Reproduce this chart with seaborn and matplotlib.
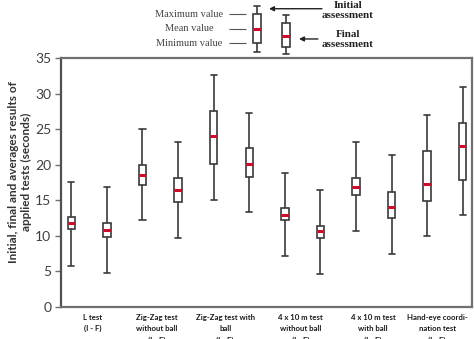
import numpy as np
import pandas as pd
import matplotlib
matplotlib.use("Agg")
import matplotlib.pyplot as plt
import seaborn as sns

# ---- data -----------------------------------------------------------------
tests = [
    "L test\n(I - F)",
    "Zig-Zag test\nwithout ball\n(I - F)",
    "Zig-Zag test with\nball\n(I - F)",
    "4 x 10 m test\nwithout ball\n(I - F)",
    "4 x 10 m test\nwith ball\n(I - F)",
    "Hand-eye coordi-\nnation test\n(I - F)",
]
assessments = ["Initial", "Final"]

# initial assessment: minimum, lower box edge, mean, upper box edge, maximum
initial_min = [5.8, 12.2, 15.1, 7.2, 10.7, 10.0]
initial_low = [10.9, 17.2, 20.1, 12.2, 15.7, 14.9]
initial_mean = [11.8, 18.5, 24.0, 13.0, 16.8, 17.3]
initial_high = [12.6, 20.0, 27.5, 13.9, 18.2, 21.9]
initial_max = [17.6, 25.0, 32.6, 18.8, 23.2, 27.0]

# final assessment
final_min = [4.8, 9.7, 13.4, 4.7, 7.5, 13.0]
final_low = [9.8, 14.7, 18.3, 9.7, 12.5, 17.9]
final_mean = [10.85, 16.5, 20.1, 10.65, 14.1, 22.6]
final_high = [11.8, 18.2, 22.4, 11.45, 16.2, 25.9]
final_max = [16.8, 23.2, 27.3, 16.4, 21.3, 30.9]

# schematic key boxes shown above the chart (arbitrary units)
key_initial = [0.89, 2.07, 4.13, 6.15, 7.37]
key_final = [0.52, 1.59, 3.10, 4.97, 6.10]
key_labels = ["Maximum value", "Mean value", "Minimum value"]

yticks = [0, 5, 10, 15, 20, 25, 30, 35]
# where each test's caption sits along the x axis (category units)
label_pos = [0.055, 0.955, 1.912, 2.97, 3.99, 4.89]

# ---- long-form table ------------------------------------------------------
rows = []
series = {
    "Initial": (initial_min, initial_low, initial_mean, initial_high, initial_max),
    "Final": (final_min, final_low, final_mean, final_high, final_max),
}
for i, test in enumerate(tests):
    for a in assessments:
        for col in series[a]:
            rows.append({"test": test, "assessment": a, "value": col[i]})
df = pd.DataFrame(rows)

key_df = pd.DataFrame(
    [{"assessment": "Initial", "value": v} for v in key_initial]
    + [{"assessment": "Final", "value": v} for v in key_final]
)

# ---- figure ---------------------------------------------------------------
sns.set_style("white")
plt.rcParams["font.family"] = ["Lato", "DejaVu Sans"]

W, H = 474, 339
fig = plt.figure(figsize=(W / 100, H / 100), dpi=100)

line_col = "#3a3a3a"
red = "#c8102e"
frame_col = "#707070"

ax = fig.add_axes([61 / W, 1 - 307 / H, (472 - 61) / W, (307 - 58) / H])
sns.boxplot(
    data=df, x="test", y="value", hue="assessment",
    order=tests, hue_order=assessments,
    palette={"Initial": "white", "Final": "white"},
    width=1.0, gap=0.79, whis=(0, 100), showfliers=False,
    linecolor=line_col, linewidth=1.2,
    medianprops=dict(color=red, linewidth=2.2),
    capwidths=0.085, legend=False, ax=ax,
)
ax.set_xlim(-0.395, 5.38)
ax.set_ylim(0, 35)
ax.set_yticks(yticks)
ax.set_yticklabels([str(t) for t in yticks])
ax.set_xticks(label_pos)
ax.set_xticklabels(tests, fontsize=5.6, fontweight="bold",
                   family=["Liberation Sans Narrow", "Lato"],
                   linespacing=1.7)
ax.set_xlabel("")
ax.set_ylabel(
    "Initial, final and averages results of\napplied tests (seconds)",
    fontsize=8.5, fontweight="bold", color="#333333", va="center",
    linespacing=1.3,
)
ax.yaxis.set_label_coords(-0.1, 0.542)

ax.tick_params(axis="y", direction="out", length=4, width=1, color=frame_col,
               labelsize=10, labelcolor="#404040", pad=3, left=True)
ax.tick_params(axis="x", length=0, pad=5, labelcolor="#1a1a1a")

for side in ["left", "right", "top", "bottom"]:
    ax.spines[side].set_visible(True)
    ax.spines[side].set_color(frame_col)
    ax.spines[side].set_linewidth(1.6)
ax.spines["left"].set_color("#505050")

# ---- key -------------------------------------------------------------------
kx = fig.add_axes([240 / W, 1 - 58 / H, 60 / W, 58 / H])
sns.boxplot(
    data=key_df, x="assessment", y="value", order=assessments,
    color="white", width=0.25, whis=(0, 100), showfliers=False,
    linecolor=line_col, linewidth=1.2,
    medianprops=dict(color=red, linewidth=2.2),
    capwidths=0.2, ax=kx,
)
kx.set_xlim(-0.586, 1.483)
kx.set_ylim(0, 58 / 7.1)
kx.axis("off")

serif = ["Liberation Serif", "DejaVu Serif"]
label_vals = [key_initial[3], key_initial[2], key_initial[1]]
kx.hlines(label_vals, -0.97, -0.38, colors="#555555", linewidth=0.8,
          clip_on=False)
for txt, v in zip(key_labels, label_vals):
    kx.text(-2.34, v, txt, ha="center", va="center", fontsize=7.5,
            color="#444444", family=serif, clip_on=False)

arrow = dict(arrowstyle="-|>", color="#222222", lw=1.0, mutation_scale=7,
             shrinkA=0, shrinkB=0)
kx.annotate("", xy=(0.414, 6.94), xytext=(2.24, 6.94), arrowprops=arrow,
            annotation_clip=False)
kx.annotate("", xy=(1.448, 2.68), xytext=(2.10, 2.68), arrowprops=arrow,
            annotation_clip=False)
kx.text(3.14, 6.69, "Initial\nassessment", ha="center", va="center",
        fontsize=8, fontweight="bold", color="#222222", family=serif,
        linespacing=1.1, clip_on=False)
kx.text(3.14, 2.6, "Final\nassessment", ha="center", va="center",
        fontsize=8, fontweight="bold", color="#222222", family=serif,
        linespacing=1.1, clip_on=False)

fig.savefig("out.png", dpi=100)
